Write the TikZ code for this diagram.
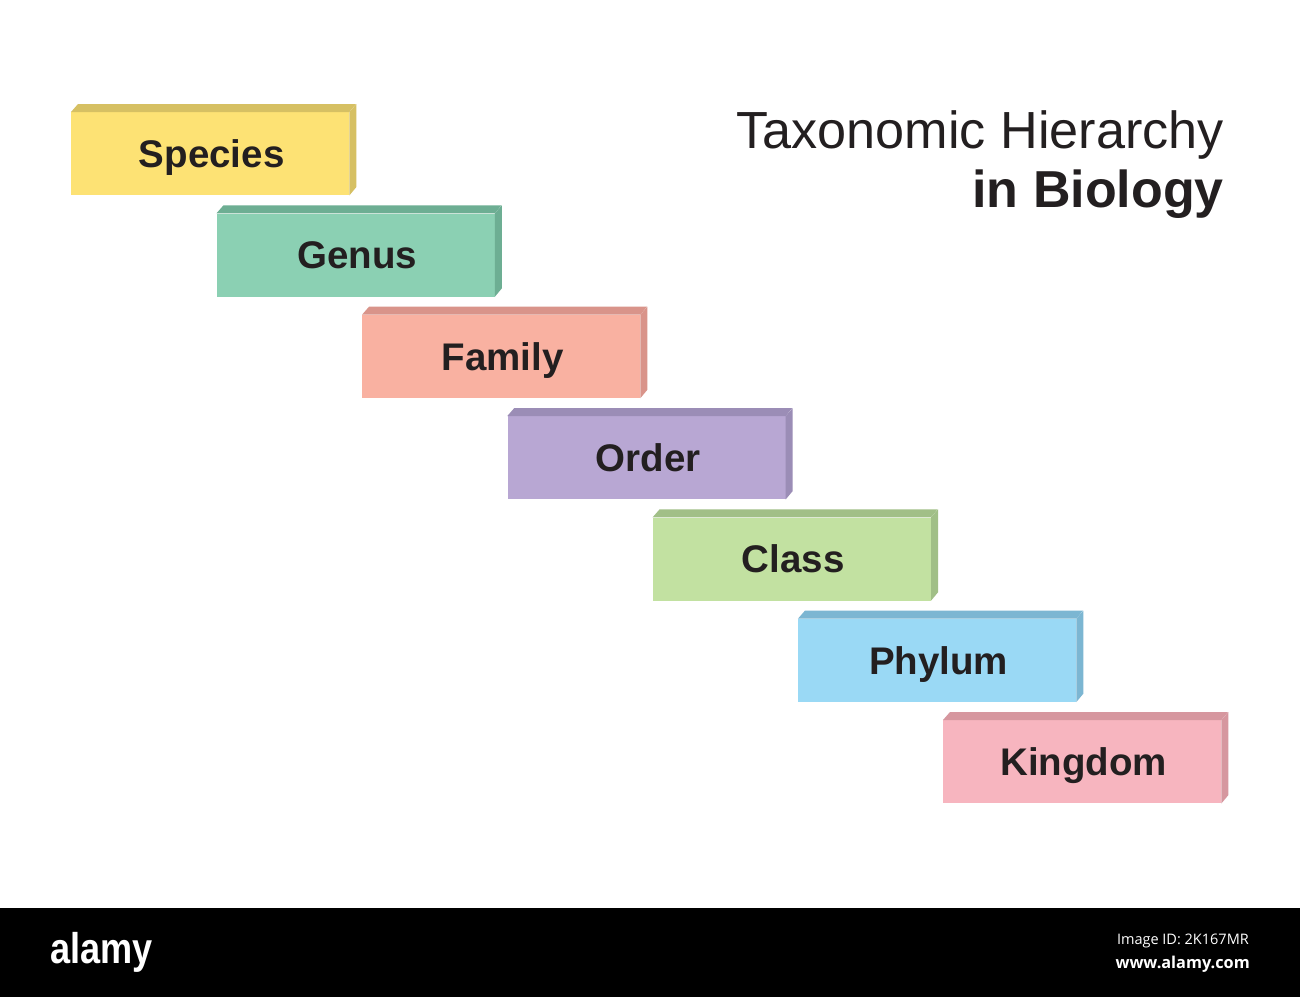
\documentclass[tikz,border=0pt]{standalone}
\usepackage{fontspec}
\setmainfont{Liberation Sans}
\newfontfamily\logofont[FakeStretch=0.84]{Liberation Sans}
\newfontfamily\idfont{Open Sans}
\definecolor{txt}{HTML}{231F20}
\definecolor{spF}{HTML}{FDE274}\definecolor{spD}{HTML}{D6C063}
\definecolor{geF}{HTML}{8BD0B3}\definecolor{geD}{HTML}{6DAE93}
\definecolor{faF}{HTML}{F9B1A1}\definecolor{faD}{HTML}{D9948A}
\definecolor{orF}{HTML}{B8A7D3}\definecolor{orD}{HTML}{9B8DB6}
\definecolor{clF}{HTML}{C2E1A1}\definecolor{clD}{HTML}{A1BF87}
\definecolor{phF}{HTML}{9AD9F5}\definecolor{phD}{HTML}{7CB6D2}
\definecolor{kiF}{HTML}{F7B5BF}\definecolor{kiD}{HTML}{D6979F}
\tikzset{
  taxbox/.style={anchor=north west, minimum width=278pt, minimum height=83pt,
    inner sep=0pt, text height=27.5pt, text depth=0pt, text=txt,
    font=\fontsize{38.5}{40}\selectfont\bfseries},
}
\newcommand{\taxcube}[6]{%
  \node[taxbox, fill=#4] (#1) at (#2,#3) {\hspace*{3pt}#6};
  \fill[#5] (#1.north west) -- ++(7,-8) -- ++(278,0) -- (#1.north east) -- cycle;
  \fill[#5] (#1.north east) -- ++(7,-8) -- ++(0,83) -- (#1.south east) -- cycle;
}
\begin{document}
\begin{tikzpicture}[x=1pt,y=-1pt]
\useasboundingbox (0,0) rectangle (1300,997);
\fill[white] (0,0) rectangle (1300,997);
\taxcube{species}{71}{112}{spF}{spD}{Species}
\taxcube{genus}{216.5}{213.3}{geF}{geD}{Genus}
\taxcube{family}{362}{314.7}{faF}{faD}{Family}
\taxcube{order}{507.3}{416}{orF}{orD}{Order}
\taxcube{class}{652.6}{517.3}{clF}{clD}{Class}
\taxcube{phylum}{797.9}{618.7}{phF}{phD}{Phylum}
\taxcube{kingdom}{943}{720}{kiF}{kiD}{Kingdom}
\node[anchor=base east, inner sep=0pt, text=txt, font=\fontsize{52.2}{54}\selectfont] (title1) at (1224,148) {Taxonomic Hierarchy};
\node[anchor=base east, inner sep=0pt, text=txt, font=\fontsize{52}{54}\selectfont\bfseries] (title2) at (1224,207) {in Biology};
\fill[black] (0,908) rectangle (1300,997);
\node[anchor=base west, inner sep=0pt, text=white, font=\logofont\fontsize{43}{44}\selectfont\bfseries] (logo) at (50,963) {alamy};
\node[anchor=base east, inner sep=0pt, text=white, font=\idfont\fontsize{14.5}{15}\selectfont] (imgid) at (1249,944) {Image ID: 2K167MR};
\node[anchor=base east, inner sep=0pt, text=white, font=\idfont\fontsize{16.3}{17}\selectfont\bfseries] (www) at (1250,968) {www.alamy.com};
\end{tikzpicture}
\end{document}
